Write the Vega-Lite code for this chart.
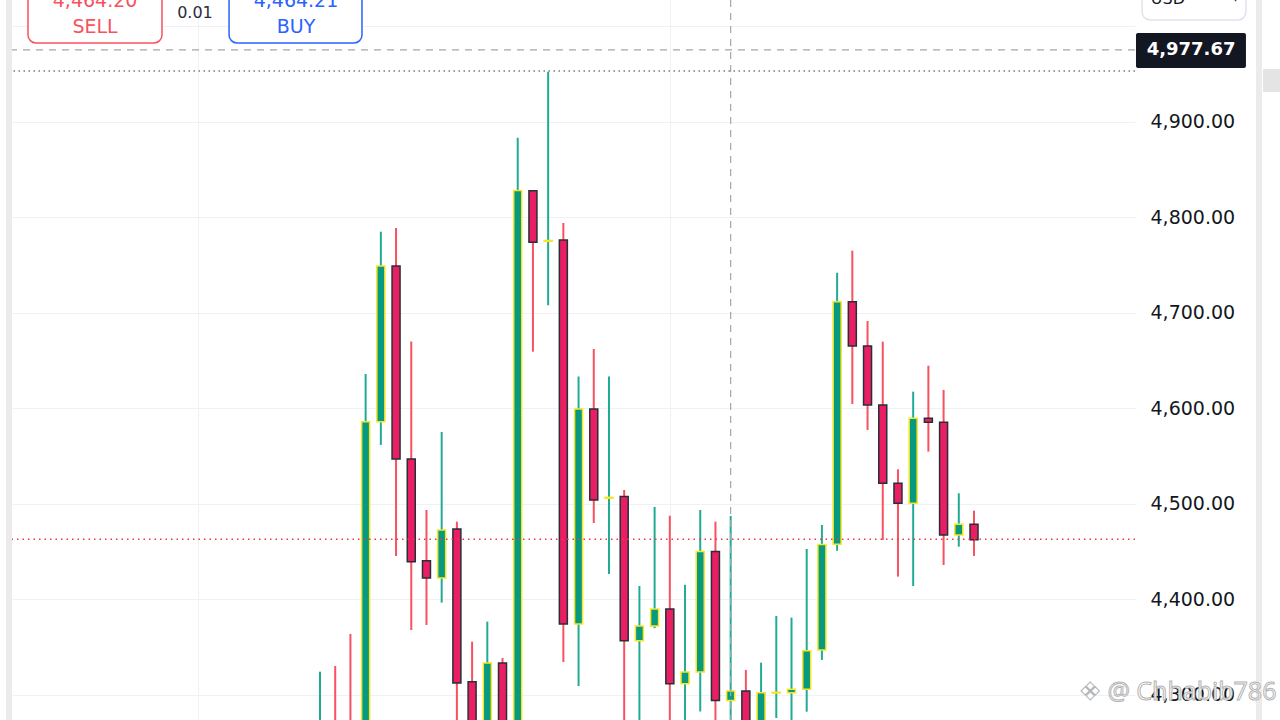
{
  "$schema": "https://vega.github.io/schema/vega-lite/v6.json",
  "width": 1123,
  "height": 720,
  "autosize": {"type": "none"},
  "padding": {"left": 12, "top": 0, "right": 145, "bottom": 0},
  "background": "#ffffff",
  "config": {"view": {"stroke": null}, "font": "DejaVu Sans", "scale": {"continuousPadding": 0}},
  "datasets": {
    "candles": [
      {"i": 0, "open": 4230, "high": 4324.4, "low": 4210, "close": 4265},
      {"i": 1, "open": 4268, "high": 4330.4, "low": 4220, "close": 4240},
      {"i": 2, "open": 4262, "high": 4363.9, "low": 4215, "close": 4238},
      {"i": 3, "open": 4240, "high": 4636.1, "low": 4225, "close": 4586.2},
      {"i": 4, "open": 4586.2, "high": 4785.1, "low": 4561.8, "close": 4749.2},
      {"i": 5, "open": 4749.2, "high": 4789.0, "low": 4445.6, "close": 4547.1},
      {"i": 6, "open": 4547.1, "high": 4670.0, "low": 4368.1, "close": 4439.6},
      {"i": 7, "open": 4440.6, "high": 4493.7, "low": 4373.3, "close": 4422.5},
      {"i": 8, "open": 4422.5, "high": 4575.4, "low": 4396.7, "close": 4472.8},
      {"i": 9, "open": 4473.8, "high": 4481.5, "low": 4255, "close": 4312.6},
      {"i": 10, "open": 4313.9, "high": 4355.8, "low": 4240, "close": 4262},
      {"i": 11, "open": 4262, "high": 4376.8, "low": 4250, "close": 4333.5},
      {"i": 12, "open": 4333.5, "high": 4338.7, "low": 4240, "close": 4262},
      {"i": 13, "open": 4262, "high": 4883.4, "low": 4250, "close": 4828.3},
      {"i": 14, "open": 4828.0, "high": 4828.0, "low": 4659.5, "close": 4774.1},
      {"i": 15, "open": 4775.0, "high": 4952.6, "low": 4708.0, "close": 4775.9},
      {"i": 16, "open": 4776.4, "high": 4794.2, "low": 4334.6, "close": 4374.4},
      {"i": 17, "open": 4374.4, "high": 4633.5, "low": 4309.4, "close": 4599.5},
      {"i": 18, "open": 4599.5, "high": 4662.3, "low": 4480.1, "close": 4504.2},
      {"i": 19, "open": 4506.0, "high": 4633.5, "low": 4426.7, "close": 4507.0},
      {"i": 20, "open": 4507.9, "high": 4514.7, "low": 4265, "close": 4356.8},
      {"i": 21, "open": 4356.8, "high": 4414.1, "low": 4268, "close": 4372.3},
      {"i": 22, "open": 4372.3, "high": 4496.9, "low": 4370, "close": 4390.1},
      {"i": 23, "open": 4390.1, "high": 4487.7, "low": 4268, "close": 4311.8},
      {"i": 24, "open": 4311.8, "high": 4415.4, "low": 4265, "close": 4324.1},
      {"i": 25, "open": 4324.1, "high": 4493.7, "low": 4282.7, "close": 4450.2},
      {"i": 26, "open": 4450.2, "high": 4481.5, "low": 4262, "close": 4294.1},
      {"i": 27, "open": 4294.1, "high": 4487.5, "low": 4262, "close": 4304.2},
      {"i": 28, "open": 4304.2, "high": 4326.2, "low": 4255, "close": 4268},
      {"i": 29, "open": 4270, "high": 4333.8, "low": 4260, "close": 4302.4},
      {"i": 30, "open": 4302.0, "high": 4382.7, "low": 4275.9, "close": 4302.8},
      {"i": 31, "open": 4302.4, "high": 4381.0, "low": 4268, "close": 4306.0},
      {"i": 32, "open": 4306.0, "high": 4452.9, "low": 4282.5, "close": 4346.4},
      {"i": 33, "open": 4347.1, "high": 4478.0, "low": 4336.7, "close": 4457.6},
      {"i": 34, "open": 4457.8, "high": 4742.2, "low": 4451.1, "close": 4711.8},
      {"i": 35, "open": 4711.8, "high": 4765.2, "low": 4604.7, "close": 4665.5},
      {"i": 36, "open": 4665.5, "high": 4691.6, "low": 4577.5, "close": 4603.7},
      {"i": 37, "open": 4603.7, "high": 4670.0, "low": 4462.3, "close": 4521.7},
      {"i": 38, "open": 4521.7, "high": 4536.3, "low": 4423.9, "close": 4500.7},
      {"i": 39, "open": 4500.7, "high": 4617.6, "low": 4414.1, "close": 4589.7},
      {"i": 40, "open": 4589.7, "high": 4644.8, "low": 4554.8, "close": 4585.6},
      {"i": 41, "open": 4585.6, "high": 4619.4, "low": 4436.1, "close": 4467.5},
      {"i": 42, "open": 4467.5, "high": 4511.2, "low": 4455.3, "close": 4478.7},
      {"i": 43, "open": 4478.7, "high": 4493.0, "low": 4445.6, "close": 4462.5}
    ]
  },
  "layer": [
    {
      "data": {"name": "candles"},
      "mark": {"type": "rule", "strokeWidth": 2},
      "encoding": {
        "x": {"field": "i", "type": "quantitative",
          "scale": {"domain": [-20.251, 53.585], "nice": false, "zero": false, "padding": 0},
          "axis": {"values": [-8, 23], "grid": true, "gridColor": "#f0f1f4", "gridWidth": 1, "labels": false, "ticks": false, "domain": false, "title": null}},
        "y": {"field": "low", "type": "quantitative",
          "scale": {"domain": [4273.8, 5027.7], "nice": false, "zero": false, "padding": 0},
          "axis": {"orient": "right", "values": [4300, 4400, 4500, 4600, 4700, 4800, 4900, 5000], "labelExpr": "datum.value >= 5000 ? '' : format(datum.value, ',.2f')", "grid": true, "gridColor": "#f0f1f4", "gridWidth": 1, "ticks": false, "tickSize": 0, "domain": false, "labelPadding": 15, "labelFontSize": 19, "labelColor": "#131722", "labelFont": "DejaVu Sans", "labelAlign": "left", "labelBaseline": "middle", "title": null}},
        "y2": {"field": "high"},
        "color": {"condition": {"test": "datum.close >= datum.open", "value": "#22ab94"}, "value": "#f7525f"}
      }
    },
    {
      "data": {"name": "candles"},
      "mark": {"type": "bar", "width": 8, "strokeWidth": 1.5},
      "encoding": {
        "x": {"field": "i", "type": "quantitative", "scale": {"domain": [-20.251, 53.585], "nice": false, "zero": false, "padding": 0}},
        "y": {"field": "open", "type": "quantitative", "scale": {"domain": [4273.8, 5027.7], "nice": false, "zero": false, "padding": 0}},
        "y2": {"field": "close"},
        "fill": {"condition": {"test": "datum.close >= datum.open", "value": "#089981"}, "value": "#e91e63"},
        "stroke": {"condition": {"test": "datum.close >= datum.open", "value": "#f5e626"}, "value": "#2a2e39"}
      }
    },
    {
      "data": {"values": [{"price": 4463}]},
      "mark": {"type": "rule", "color": "#f23645", "strokeWidth": 1.5, "strokeDash": [1.5, 4]},
      "encoding": {"y": {"field": "price", "type": "quantitative", "scale": {"domain": [4273.8, 5027.7], "nice": false, "zero": false, "padding": 0}}}
    },
    {
      "data": {"values": [{"price": 4953.4}]},
      "mark": {"type": "rule", "color": "#787b86", "strokeWidth": 1.5, "strokeDash": [1.5, 3.5]},
      "encoding": {"y": {"field": "price", "type": "quantitative", "scale": {"domain": [4273.8, 5027.7], "nice": false, "zero": false, "padding": 0}}}
    },
    {
      "data": {"values": [{"price": 4975.5}]},
      "mark": {"type": "rule", "color": "#a3a6af", "strokeWidth": 1.2, "strokeDash": [7, 6]},
      "encoding": {"y": {"field": "price", "type": "quantitative", "scale": {"domain": [4273.8, 5027.7], "nice": false, "zero": false, "padding": 0}}}
    },
    {
      "data": {"values": [{"i": 27}]},
      "mark": {"type": "rule", "color": "#a3a6af", "strokeWidth": 1.2, "strokeDash": [7, 6]},
      "encoding": {"x": {"field": "i", "type": "quantitative", "scale": {"domain": [-20.251, 53.585], "nice": false, "zero": false, "padding": 0}}}
    },
    {
      "data": {"values": [{"i": -20.45}, {"i": 61.74}]},
      "mark": {"type": "rule", "color": "#ebebeb", "strokeWidth": 6},
      "encoding": {"x": {"field": "i", "type": "quantitative", "scale": {"domain": [-20.251, 53.585], "nice": false, "zero": false, "padding": 0}}}
    },
    {
      "data": {"values": [{"x1": 62.0, "x2": 63.2, "p1": 4955.4, "p2": 4931.4}]},
      "mark": {"type": "rect", "fill": "#e4e4e4"},
      "encoding": {
        "x": {"field": "x1", "type": "quantitative", "scale": {"domain": [-20.251, 53.585], "nice": false, "zero": false, "padding": 0}},
        "x2": {"field": "x2"},
        "y": {"field": "p1", "type": "quantitative", "scale": {"domain": [4273.8, 5027.7], "nice": false, "zero": false, "padding": 0}},
        "y2": {"field": "p2"}
      }
    },
    {
      "data": {"values": [
        {"box": "sell", "x1": -19.2, "x2": -10.39, "p1": 5048.6, "p2": 4982.7},
        {"box": "buy", "x1": -5.98, "x2": 2.76, "p1": 5048.6, "p2": 4982.7},
        {"box": "usd", "x1": 54.05, "x2": 60.88, "p1": 5048.6, "p2": 5006.8}
      ]},
      "mark": {"type": "rect", "fill": "#ffffff", "strokeWidth": 1.5, "cornerRadius": 8},
      "encoding": {
        "x": {"field": "x1", "type": "quantitative", "scale": {"domain": [-20.251, 53.585], "nice": false, "zero": false, "padding": 0}},
        "x2": {"field": "x2"},
        "y": {"field": "p1", "type": "quantitative", "scale": {"domain": [4273.8, 5027.7], "nice": false, "zero": false, "padding": 0}},
        "y2": {"field": "p2"},
        "stroke": {"field": "box", "type": "nominal", "scale": {"domain": ["sell", "buy", "usd"], "range": ["#f7525f", "#2962ff", "#e0e3eb"]}, "legend": null}
      }
    },
    {
      "data": {"values": [{"x1": 53.65, "x2": 60.88, "p1": 4993.1, "p2": 4956.5}]},
      "mark": {"type": "rect", "fill": "#131722", "cornerRadius": 2},
      "encoding": {
        "x": {"field": "x1", "type": "quantitative", "scale": {"domain": [-20.251, 53.585], "nice": false, "zero": false, "padding": 0}},
        "x2": {"field": "x2"},
        "y": {"field": "p1", "type": "quantitative", "scale": {"domain": [4273.8, 5027.7], "nice": false, "zero": false, "padding": 0}},
        "y2": {"field": "p2"}
      }
    },
    {
      "data": {"values": [
        {"label": "4,464.20", "who": "sell", "i": -14.79, "p": 5020.4},
        {"label": "SELL", "who": "sell", "i": -14.79, "p": 4993.1},
        {"label": "4,464.21", "who": "buy", "i": -1.58, "p": 5020.4},
        {"label": "BUY", "who": "buy", "i": -1.58, "p": 4993.1}
      ]},
      "mark": {"type": "text", "fontSize": 19, "align": "center", "baseline": "alphabetic", "font": "DejaVu Sans"},
      "encoding": {
        "x": {"field": "i", "type": "quantitative", "scale": {"domain": [-20.251, 53.585], "nice": false, "zero": false, "padding": 0}},
        "y": {"field": "p", "type": "quantitative", "scale": {"domain": [4273.8, 5027.7], "nice": false, "zero": false, "padding": 0}},
        "text": {"field": "label"},
        "color": {"field": "who", "type": "nominal", "scale": {"domain": ["sell", "buy"], "range": ["#f7525f", "#2962ff"]}, "legend": null}
      }
    },
    {
      "data": {"values": [{"label": "0.01", "i": -8.22, "p": 5008.9}]},
      "mark": {"type": "text", "fontSize": 16, "align": "center", "baseline": "alphabetic", "color": "#2a2e39", "font": "DejaVu Sans"},
      "encoding": {
        "x": {"field": "i", "type": "quantitative", "scale": {"domain": [-20.251, 53.585], "nice": false, "zero": false, "padding": 0}},
        "y": {"field": "p", "type": "quantitative", "scale": {"domain": [4273.8, 5027.7], "nice": false, "zero": false, "padding": 0}},
        "text": {"field": "label"}
      }
    },
    {
      "data": {"values": [{"label": "USD", "i": 55.75, "p": 5023.5}, {"label": "▾", "i": 60.2, "p": 5025.6}]},
      "mark": {"type": "text", "fontSize": 16, "align": "center", "baseline": "alphabetic", "color": "#131722", "font": "DejaVu Sans"},
      "encoding": {
        "x": {"field": "i", "type": "quantitative", "scale": {"domain": [-20.251, 53.585], "nice": false, "zero": false, "padding": 0}},
        "y": {"field": "p", "type": "quantitative", "scale": {"domain": [4273.8, 5027.7], "nice": false, "zero": false, "padding": 0}},
        "text": {"field": "label"}
      }
    },
    {
      "data": {"values": [{"label": "4,977.67", "i": 57.27, "p": 4970.1}]},
      "mark": {"type": "text", "fontSize": 18, "fontWeight": "bold", "align": "center", "baseline": "alphabetic", "color": "#ffffff", "font": "DejaVu Sans"},
      "encoding": {
        "x": {"field": "i", "type": "quantitative", "scale": {"domain": [-20.251, 53.585], "nice": false, "zero": false, "padding": 0}},
        "y": {"field": "p", "type": "quantitative", "scale": {"domain": [4273.8, 5027.7], "nice": false, "zero": false, "padding": 0}},
        "text": {"field": "label"}
      }
    },
    {
      "data": {"values": [{"label": "❖ @ Chhabib786", "i": 49.9, "p": 4303.1}]},
      "mark": {"type": "text", "fontSize": 25, "align": "left", "baseline": "middle", "fill": "#ffffff", "stroke": "#b4b4b4", "strokeWidth": 1, "font": "Open Sans"},
      "encoding": {
        "x": {"field": "i", "type": "quantitative", "scale": {"domain": [-20.251, 53.585], "nice": false, "zero": false, "padding": 0}},
        "y": {"field": "p", "type": "quantitative", "scale": {"domain": [4273.8, 5027.7], "nice": false, "zero": false, "padding": 0}},
        "text": {"field": "label"}
      }
    }
  ]
}
